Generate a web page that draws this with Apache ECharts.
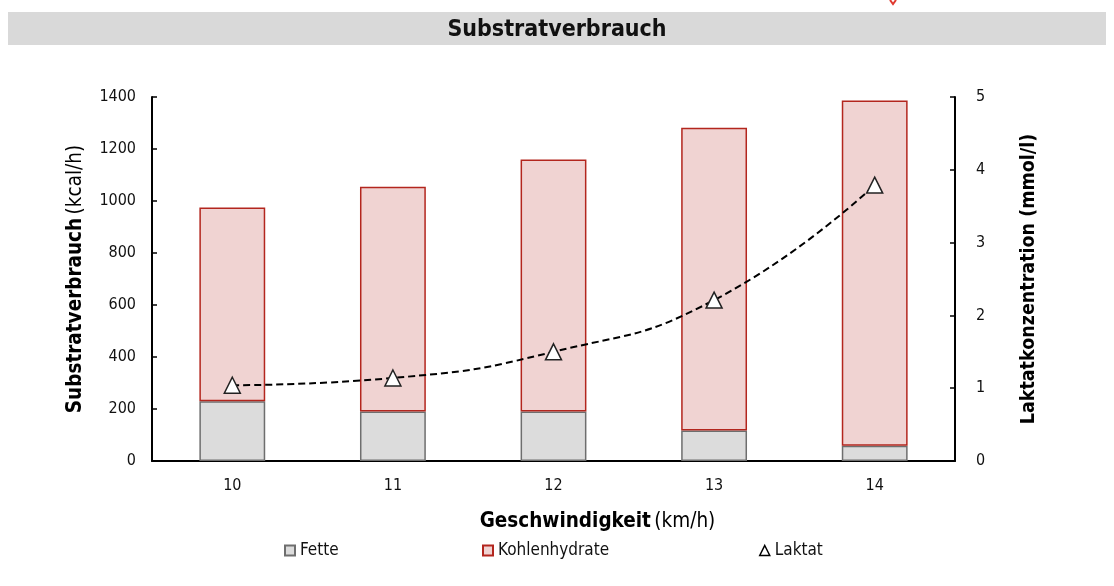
<!DOCTYPE html>
<html><head><meta charset="utf-8">
<script src="https://cdn.jsdelivr.net/npm/echarts@6/dist/echarts.min.js"></script>
<style>html,body{margin:0;padding:0;background:#fff}#c{width:1114px;height:586px}</style>
</head><body><div id="c"></div>
<script>
const categories = ['10', '11', '12', '13', '14'];
const fette = [230, 190, 190, 117, 59];
const kohlenhydrate = [745, 865, 970, 1165, 1328];
const laktat = [1.04, 1.14, 1.5, 2.21, 3.79];
const leftTicks = [0, 1400, 200];
const rightTicks = [0, 5, 1];

const FONT = '"DejaVu Sans Condensed", "Open Sans", sans-serif';
const legendText = { fontFamily: FONT, fontSize: 17, color: '#111' };
const chart = echarts.init(document.getElementById('c'));
chart.setOption({
  animation: false,
  textStyle: { fontFamily: FONT },
  graphic: [
    { type: 'rect', shape: { x: 8, y: 12, width: 1098, height: 33 }, style: { fill: '#d9d9d9' }, z: -1 },
    { type: 'polyline', shape: { points: [[890, 0], [893, 4], [896, 0]] }, style: { stroke: '#e03a30', lineWidth: 2, fill: null } }
  ],
  title: {
    text: 'Substratverbrauch', left: 'center', top: 14,
    textStyle: { fontFamily: FONT, fontWeight: 'bold', fontSize: 23, color: '#111' }
  },
  legend: [
    { bottom: 27, left: 284, padding: 0, itemWidth: 10, itemHeight: 10, textStyle: legendText,
      data: [{ name: 'Fette', icon: 'rect' }] },
    { bottom: 27, left: 482, padding: 0, itemWidth: 10, itemHeight: 10, textStyle: legendText,
      data: [{ name: 'Kohlenhydrate', icon: 'rect' }] },
    { bottom: 27, left: 759, padding: 0, itemWidth: 10, itemHeight: 10, textStyle: legendText,
      data: [{ name: 'Laktat', icon: 'triangle', itemStyle: { color: '#fff', borderColor: '#000', borderWidth: 1.5 } }] }
  ],
  grid: { left: 152, right: 159, top: 97, bottom: 125 },
  xAxis: {
    type: 'category', data: categories,
    axisLine: { lineStyle: { color: '#000', width: 2 } },
    axisTick: { show: false },
    axisLabel: { fontSize: 16, color: '#111', margin: 17 },
    name: '{b|Geschwindigkeit} {n|(km/h)}', nameLocation: 'middle', nameGap: 50,
    nameTextStyle: { padding: [0, 0, 0, 88], rich: { b: { fontWeight: 'bold', fontSize: 20.5, color: '#000', fontFamily: FONT }, n: { fontSize: 20.5, color: '#000', fontFamily: FONT } } }
  },
  yAxis: [
    {
      type: 'value', min: leftTicks[0], max: leftTicks[1], interval: leftTicks[2],
      axisLine: { show: true, lineStyle: { color: '#000', width: 2 } },
      axisTick: { show: true, inside: true, length: 5, lineStyle: { color: '#000', width: 1.5 } },
      splitLine: { show: false },
      axisLabel: { fontSize: 16, color: '#111', margin: 16, formatter: v => String(v) },
      name: '{b|Substratverbrauch} {n|(kcal/h)}', nameLocation: 'middle', nameGap: 66, nameRotate: 90,
      nameTextStyle: { rich: { b: { fontWeight: 'bold', fontSize: 20.5, color: '#000', fontFamily: FONT }, n: { fontSize: 20.5, color: '#000', fontFamily: FONT } } }
    },
    {
      type: 'value', min: rightTicks[0], max: rightTicks[1], interval: rightTicks[2],
      axisLine: { show: true, lineStyle: { color: '#000', width: 2 } },
      axisTick: { show: true, inside: true, length: 5, lineStyle: { color: '#000', width: 1.5 } },
      splitLine: { show: false },
      axisLabel: { fontSize: 16, color: '#111', margin: 21 },
      name: 'Laktatkonzentration (mmol/l)', nameLocation: 'middle', nameGap: 64, nameRotate: 90,
      nameTextStyle: { fontWeight: 'bold', fontSize: 19.5, color: '#000', fontFamily: FONT }
    }
  ],
  series: [
    {
      name: 'Fette', type: 'bar', stack: 's', data: fette, barWidth: '41%',
      itemStyle: { color: '#dcdcdc', borderColor: '#6e6e6e', borderWidth: 1.5 }
    },
    {
      name: 'Kohlenhydrate', type: 'bar', stack: 's', data: kohlenhydrate, barWidth: '41%',
      itemStyle: { color: '#f0d3d2', borderColor: '#b3261e', borderWidth: 1.5 }
    },
    {
      name: 'Laktat', type: 'line', yAxisIndex: 1, data: laktat, smooth: true,
      symbol: 'triangle', symbolSize: 16,
      lineStyle: { color: '#000', width: 2, type: [7, 4] },
      itemStyle: { color: '#fff', borderColor: '#222', borderWidth: 1.5 },
      z: 5
    }
  ]
});
</script></body></html>
